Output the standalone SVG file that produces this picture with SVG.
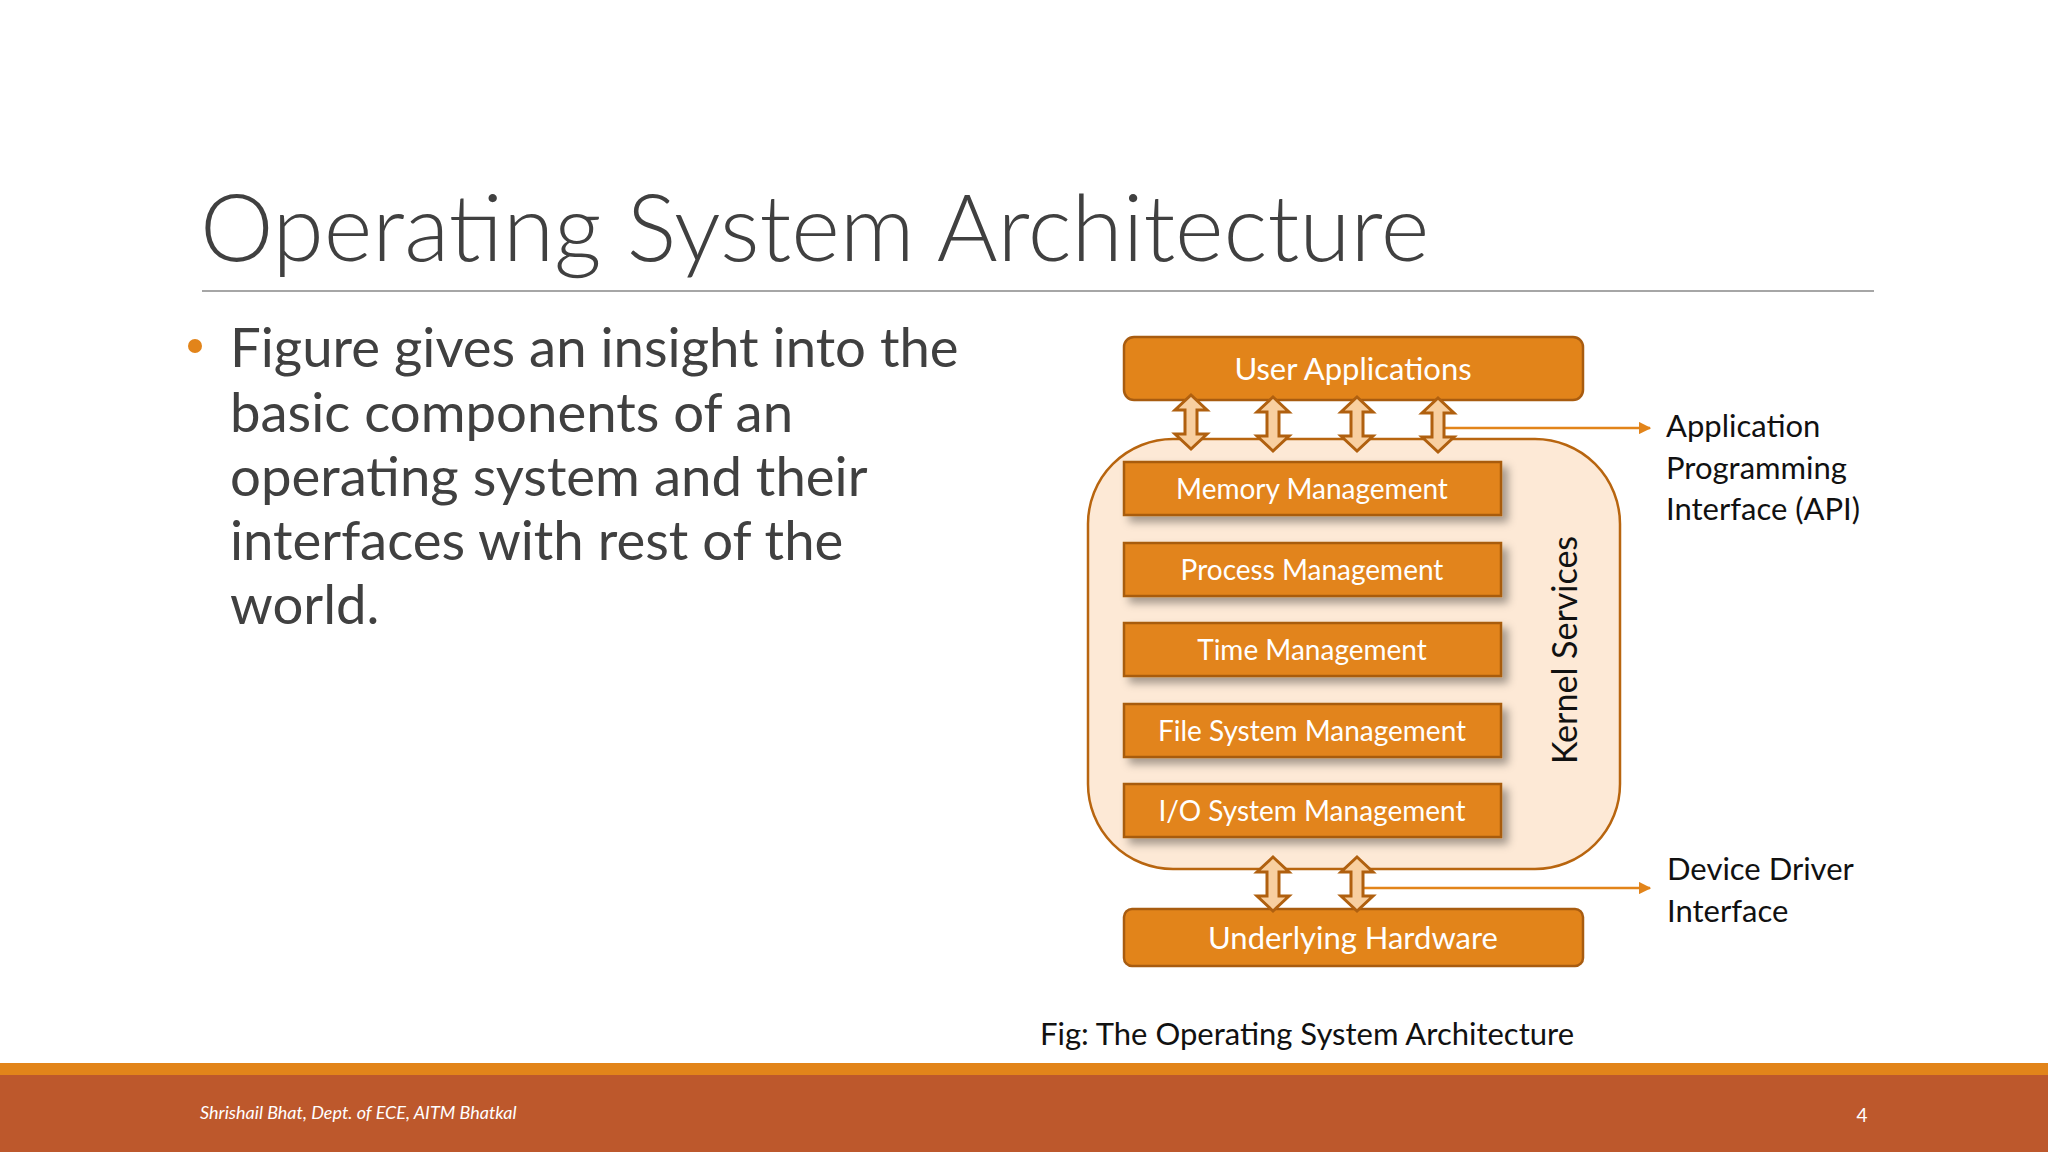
<svg xmlns="http://www.w3.org/2000/svg" width="2048" height="1152" viewBox="0 0 2048 1152">
<defs>
<style>
text{font-family:Lato,"Open Sans","Liberation Sans",sans-serif}
.box{fill:#e2841a;stroke:#a85c10;stroke-width:2.5}
.bt{fill:#fff;font-size:28px;text-anchor:middle}
.big{fill:#fff;font-size:31px;text-anchor:middle}
.body{fill:#404040;font-size:54.5px}
.lbl{fill:#111;font-size:31px}
.arr{fill:#f8cfa0;stroke:#b0600f;stroke-width:3;stroke-linejoin:miter}
.conn{stroke:#e2841a;stroke-width:2.5;fill:none}
</style>
<filter id="sh" x="-10%" y="-30%" width="130%" height="180%"><feDropShadow dx="6" dy="6" stdDeviation="4" flood-color="#000" flood-opacity="0.35"/></filter>
<marker id="ah" viewBox="0 0 10 10" refX="9" refY="5" markerWidth="5" markerHeight="5" orient="auto"><path d="M0,0L10,5L0,10z" fill="#e2841a"/></marker>
<path id="dbl" d="M0,-27 L16,-12 L6,-12 L6,12 L16,12 L0,27 L-16,12 L-6,12 L-6,-12 L-16,-12 Z"/>
</defs>
<rect width="2048" height="1152" fill="#fff"/>
<text x="200" y="261" font-size="93" fill="#404040" style="font-weight:300">Operating System Architecture</text>
<line x1="202" y1="291" x2="1874" y2="291" stroke="#a6a6a6" stroke-width="2"/>
<circle cx="195" cy="346" r="7" fill="#e2841a"/>
<text class="body" x="230" y="367">Figure gives an insight into the</text>
<text class="body" x="230" y="432">basic components of an</text>
<text class="body" x="230" y="496">operating system and their</text>
<text class="body" x="230" y="560">interfaces with rest of the</text>
<text class="body" x="230" y="624">world.</text>

<g id="kernel"><rect x="1088" y="439" width="532" height="430" rx="85" fill="#fde9d6" stroke="#b8650f" stroke-width="2.5"/>
<text x="1577" y="650" transform="rotate(-90 1577 650)" font-size="34" fill="#111" text-anchor="middle">Kernel Services</text></g>
<g id="user"><rect class="box" x="1124" y="337" width="459" height="63" rx="10"/><text class="big" x="1353" y="380">User Applications</text></g>
<g id="mem"><rect class="box" filter="url(#sh)" x="1124" y="462" width="377" height="53"/><text class="bt" x="1312" y="499">Memory Management</text></g>
<g id="proc"><rect class="box" filter="url(#sh)" x="1124" y="543" width="377" height="53"/><text class="bt" x="1312" y="580">Process Management</text></g>
<g id="time"><rect class="box" filter="url(#sh)" x="1124" y="623" width="377" height="53"/><text class="bt" x="1312" y="660">Time Management</text></g>
<g id="fs"><rect class="box" filter="url(#sh)" x="1124" y="704" width="377" height="53"/><text class="bt" x="1312" y="741">File System Management</text></g>
<g id="io"><rect class="box" filter="url(#sh)" x="1124" y="784" width="377" height="53"/><text class="bt" x="1312" y="821">I/O System Management</text></g>
<g id="hw"><rect class="box" x="1124" y="909" width="459" height="57" rx="8"/><text class="big" x="1353" y="949">Underlying Hardware</text></g>

<g id="connectors">
<line class="conn" x1="1444" y1="428" x2="1650" y2="428" marker-end="url(#ah)"/>
<line class="conn" x1="1362" y1="888" x2="1650" y2="888" marker-end="url(#ah)"/>
<use href="#dbl" class="arr" x="1191" y="422"/>
<use href="#dbl" class="arr" x="1273" y="424"/>
<use href="#dbl" class="arr" x="1357" y="424"/>
<use href="#dbl" class="arr" x="1438" y="425"/>
<use href="#dbl" class="arr" x="1273" y="884"/>
<use href="#dbl" class="arr" x="1357" y="884"/>
</g>
<g id="api"><text class="lbl" x="1666" y="437">Application</text><text class="lbl" x="1666" y="479">Programming</text><text class="lbl" x="1666" y="520">Interface  (API)</text></g>
<g id="ddi"><text class="lbl" x="1667" y="880">Device Driver</text><text class="lbl" x="1667" y="922">Interface</text></g>
<text class="lbl" x="1040" y="1045">Fig: The Operating System Architecture</text>
<rect x="0" y="1063" width="2048" height="12" fill="#e2841a"/>
<rect x="0" y="1075" width="2048" height="77" fill="#bd582c"/>
<text x="200" y="1119" font-size="18" font-style="italic" fill="#fff">Shrishail Bhat, Dept. of ECE, AITM Bhatkal</text>
<text x="1862" y="1122" font-size="19" fill="#fff" text-anchor="middle">4</text>
</svg>
